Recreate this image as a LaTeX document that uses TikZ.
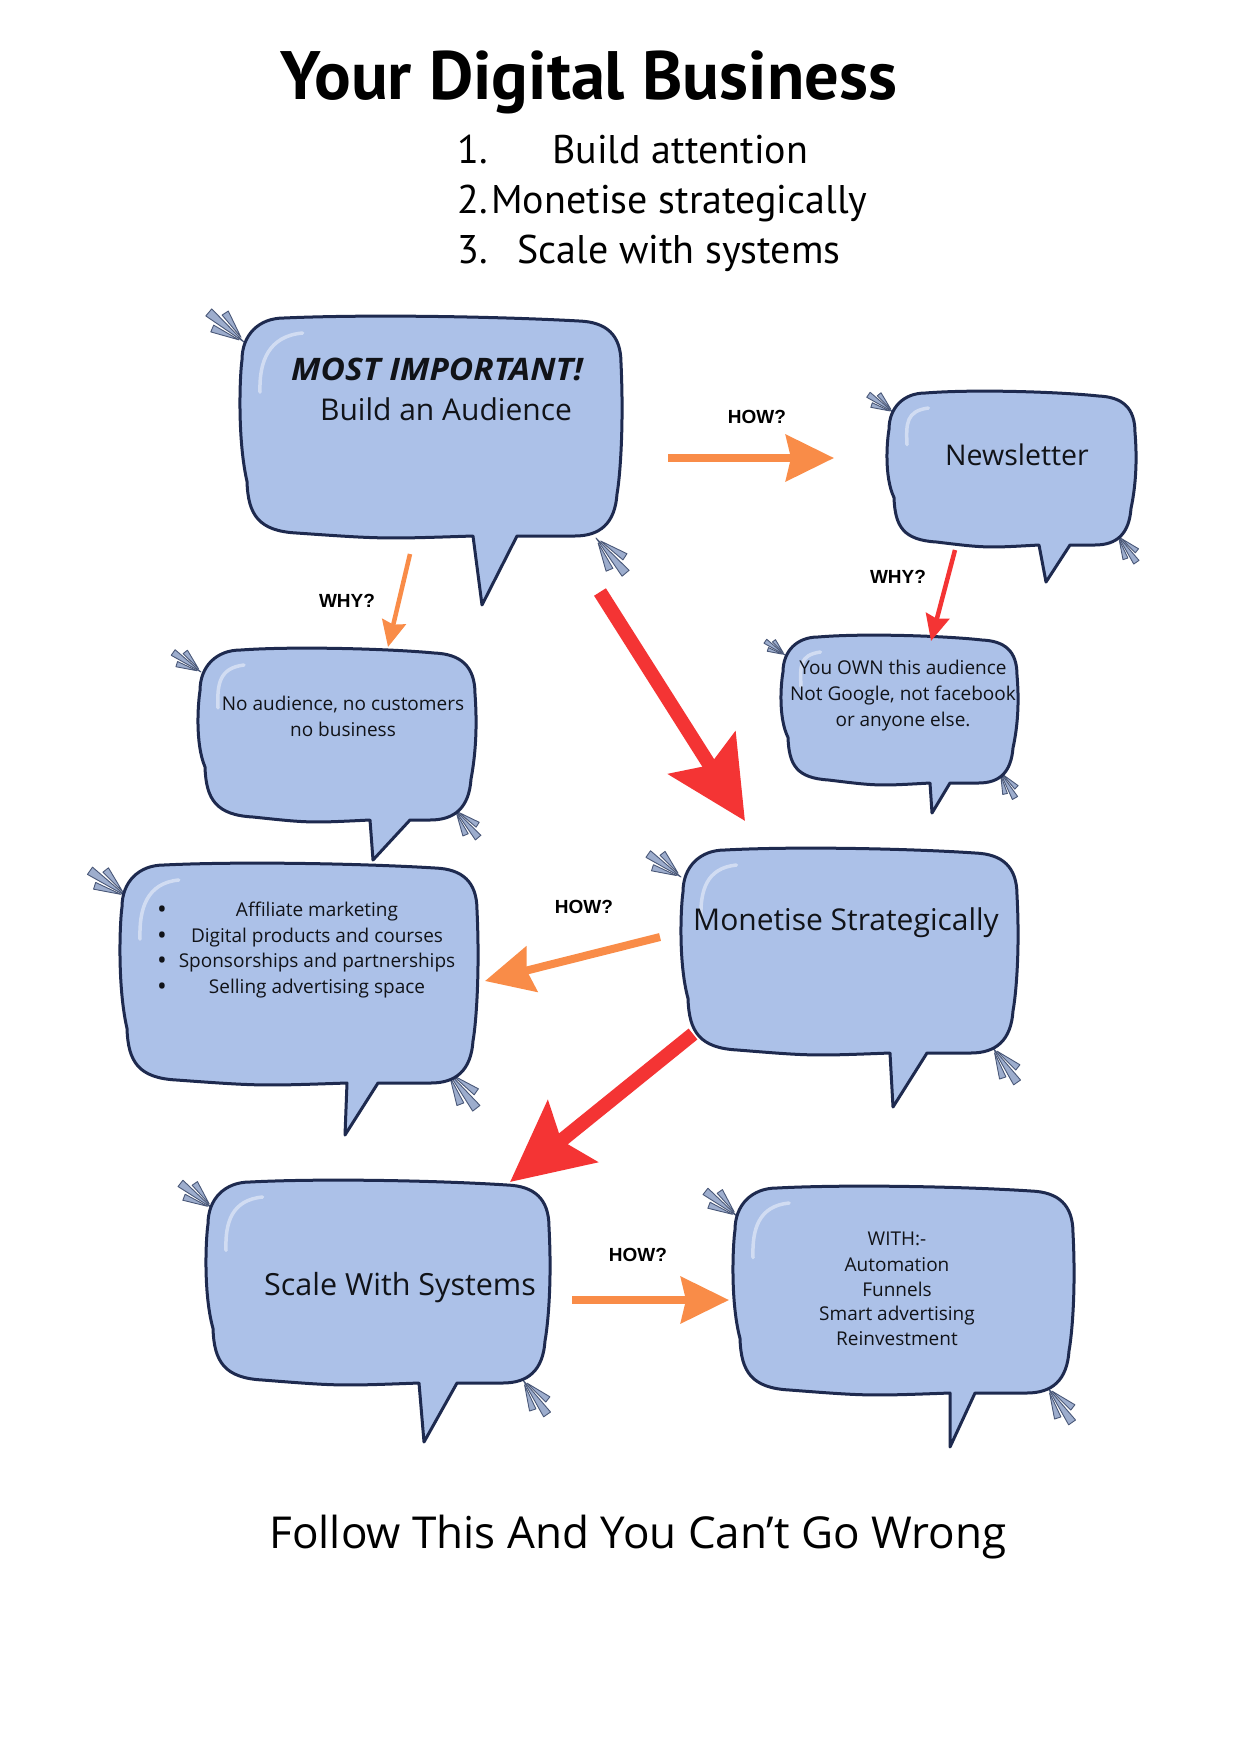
\documentclass[tikz,border=0pt]{standalone}
\usepackage{fontspec}
\setmainfont{Open Sans}
\newfontfamily\ptsans{PT Sans}
\newfontfamily\labfont{Liberation Sans}
\usetikzlibrary{arrows.meta}
\definecolor{bfill}{HTML}{ACC1E8}
\definecolor{bline}{HTML}{1E2A4F}
\definecolor{sfill}{HTML}{9DADCD}
\definecolor{sline}{HTML}{4A5878}
\definecolor{orng}{HTML}{F98C48}
\definecolor{rd}{HTML}{F43434}
\definecolor{txt}{HTML}{111318}
% one wedge: cx cy angle d0 d1 width
\newcommand{\spk}[6]{%
 \path[sparkwedge] ({#1+#4*cos(#3)},{#2+#4*sin(#3)})
  -- ({#1+#5*cos(#3)+0.5*#6*cos(#3+90)},{#2+#5*sin(#3)+0.5*#6*sin(#3+90)})
  -- ({#1+#5*cos(#3)-0.5*#6*cos(#3+90)},{#2+#5*sin(#3)-0.5*#6*sin(#3+90)}) -- cycle;}
% sparkle: cx cy angle length
\newcommand{\sprk}[4]{%
 \spk{#1}{#2}{#3-17}{0.12*#4}{0.75*#4}{0.16*#4}%
 \spk{#1}{#2}{#3}{0}{#4}{0.2*#4}%
 \spk{#1}{#2}{#3+17}{0.12*#4}{0.75*#4}{0.16*#4}}
% bubble: x1 y1 x2 y2 tailL tailR tipx tipy
\newcommand{\bub}[8]{%
 \pgfmathsetmacro\bw{#3-#1}\pgfmathsetmacro\bh{#4-#2}%
 \pgfmathsetmacro\br{min(42,0.24*\bh)}%
 \path[bubble] (#1+\br,#2)
  .. controls (#1+0.35*\bw,#2-4) and (#1+0.7*\bw,#2-1) .. (#3-\br,#2+3)
  .. controls (#3-0.35*\br,#2+4) and (#3,#2+0.4*\br) .. (#3,#2+\br+3)
  .. controls (#3+3,#2+0.5*\bh) and (#3-1,#4-1.4*\br) .. (#3-4,#4-\br)
  .. controls (#3-6,#4-0.3*\br) and (#3-0.5*\br,#4) .. (#3-1.1*\br,#4)
  -- (#6,#4) -- (#7,#8) -- (#5,#4)
  .. controls (0.5*#5+0.5*#1+0.6*\br,#4+3) .. (#1+1.3*\br,#4-3)
  .. controls (#1+0.4*\br,#4-5) and (#1+6,#4-0.5*\br) .. (#1+5,#4-1.3*\br)
  .. controls (#1-5,#2+0.55*\bh) and (#1-2,#2+1.3*\br) .. (#1,#2+\br)
  .. controls (#1,#2+0.4*\br) and (#1+0.4*\br,#2) .. (#1+\br,#2) -- cycle;
 \draw[hilite] (#1+18,#2+0.34*\bh) .. controls (#1+17,#2+0.2*\bh) and (#1+0.07*\bw,#2+18) .. (#1+0.16*\bw,#2+15);
}
\tikzset{
 bubble/.style={fill=bfill, draw=bline, line width=3pt, line join=round},
 hilite/.style={draw=white, line width=3.5pt, line cap=round, opacity=0.45},
 sparkwedge/.style={fill=sfill, draw=sline, line width=0.9pt, line join=round},
 bt/.style={inner sep=0pt, text=txt, anchor=base},
 small/.style={bt, font=\fontsize{19}{25}\selectfont},
 bulletstyle/.style={bt, font=\fontsize{26}{26}\selectfont, text height=9pt, text depth=0pt},
 lab/.style={inner sep=0pt, anchor=base, font=\labfont\bfseries\fontsize{19}{22}\selectfont},
 howarrow/.style={draw=orng, line width=8pt, -{Stealth[length=48pt,width=46pt,inset=5pt]}},
 whyarrow/.style={line width=4.5pt, -{Stealth[length=26pt,width=24pt,inset=3pt]}},
 mainarrow/.style={draw=rd, line width=14pt, -{Stealth[length=80pt,width=78pt,inset=14pt]}},
}
\begin{document}
\begin{tikzpicture}[x=1pt,y=-1pt]
\useasboundingbox[fill=white] (0,0) rectangle (1240,1748);

% title and list
\node[anchor=base, inner sep=0pt, font=\ptsans\bfseries\fontsize{68.5}{72}\selectfont] (title) at (589,99) {Your Digital Business};
\node[anchor=base west, inner sep=0pt, font=\ptsans\fontsize{40}{44}\selectfont] (n1) at (457,163) {1.};
\node[anchor=base west, inner sep=0pt, font=\ptsans\fontsize{40}{44}\selectfont] (l1) at (552,163) {Build attention};
\node[anchor=base west, inner sep=0pt, font=\ptsans\fontsize{40}{44}\selectfont] (n2) at (457,213) {2.};
\node[anchor=base west, inner sep=0pt, font=\ptsans\fontsize{40}{44}\selectfont] (l2) at (491,213) {Monetise strategically};
\node[anchor=base west, inner sep=0pt, font=\ptsans\fontsize{40}{44}\selectfont] (n3) at (457,263) {3.};
\node[anchor=base west, inner sep=0pt, font=\ptsans\fontsize{40}{44}\selectfont] (l3) at (517,263) {Scale with systems};

% sparkles
\sprk{244}{342}{220}{46}
\sprk{596}{538}{50}{46}
\sprk{893}{412}{215}{30}
\sprk{1118}{536}{55}{32}
\sprk{201}{672}{215}{34}
\sprk{455}{810}{50}{36}
\sprk{785}{655}{215}{24}
\sprk{1000}{772}{60}{30}
\sprk{126}{896}{215}{44}
\sprk{448}{1072}{52}{46}
\sprk{681}{877}{215}{40}
\sprk{993}{1048}{55}{42}
\sprk{212}{1208}{218}{40}
\sprk{523}{1380}{55}{42}
\sprk{737}{1216}{218}{40}
\sprk{1048}{1388}{55}{42}

% bubbles
\bub{242}{318}{621}{536}{473}{517}{482}{605}
\bub{889}{393}{1135}{545}{1039}{1070}{1046}{582}
\bub{200}{650}{475}{820}{370}{410}{373}{860}
\bub{783}{637}{1017}{783}{930}{950}{932}{813}
\bub{122}{865}{477}{1083}{347}{378}{345}{1135}
\bub{683}{850}{1017}{1053}{890}{927}{893}{1107}
\bub{208}{1182}{549}{1383}{419}{457}{424}{1442}
\bub{735}{1188}{1073}{1393}{950}{975}{950}{1447}

% bubble texts
\node[bt, font=\fontsize{31}{34}\selectfont\bfseries\itshape] (imp) at (437,380) {\scalebox{1.08}[1]{MOST IMPORTANT!}};
\node[bt, font=\fontsize{30}{34}\selectfont] (aud) at (446,420) {Build an Audience};
\node[bt, font=\fontsize{28.5}{34}\selectfont] (news) at (1017,465) {Newsletter};
\node[bt, font=\fontsize{30}{34}\selectfont] (mon) at (846,930) {Monetise Strategically};
\node[bt, font=\fontsize{30.5}{34}\selectfont] (scale) at (400,1295) {Scale With Systems};
\node[small] (na1) at (343,710) {No audience, no customers};
\node[small] (na2) at (343,736) {no business};
\node[small] (own1) at (903,674) {You OWN this audience};
\node[small] (own2) at (903,700) {Not Google, not facebook};
\node[small] (own3) at (903,726) {or anyone else.};
\node[small] (af1) at (317,916) {Affiliate marketing};
\node[small] (af2) at (317,942) {Digital products and courses};
\node[small] (af3) at (317,967) {Sponsorships and partnerships};
\node[small] (af4) at (317,993) {Selling advertising space};
\foreach \yy [count=\i] in {916,942,967,993}
  \node[bulletstyle] (bul\i) at (162,\yy+2) {\textbullet};
\node[small] (w1) at (897,1245) {WITH:-};
\node[small] (w2) at (897,1271) {Automation};
\node[small] (w3) at (897,1296) {Funnels};
\node[small] (w4) at (897,1320) {Smart advertising};
\node[small] (w5) at (897,1345) {Reinvestment};

% arrows
\coordinate (a1s) at (668,458); \coordinate (a1e) at (834,458);
\coordinate (a2s) at (410,554); \coordinate (a2e) at (388,647);
\coordinate (a3s) at (955,550); \coordinate (a3e) at (931,641);
\coordinate (a4s) at (600,592); \coordinate (a4e) at (745,821);
\coordinate (a5s) at (660,937); \coordinate (a5e) at (485,981);
\coordinate (a6s) at (693,1034); \coordinate (a6e) at (510,1182);
\coordinate (a7s) at (572,1300); \coordinate (a7e) at (729,1300);
\draw[howarrow] (a1s) -- (a1e);
\draw[whyarrow, draw=orng] (a2s) -- (a2e);
\draw[whyarrow, draw=rd] (a3s) -- (a3e);
\draw[mainarrow] (a4s) -- (a4e);
\draw[howarrow] (a5s) -- (a5e);
\draw[mainarrow] (a6s) -- (a6e);
\draw[howarrow] (a7s) -- (a7e);

% labels
\node[lab] (how1) at (757,423) {HOW?};
\node[lab] (why1) at (347,607) {WHY?};
\node[lab] (why2) at (898,583) {WHY?};
\node[lab] (how2) at (584,913) {HOW?};
\node[lab] (how3) at (638,1261) {HOW?};

% footer
\node[anchor=base, inner sep=0pt, font=\fontsize{44}{48}\selectfont] (foot) at (638,1548) {Follow This And You Can’t Go Wrong};
\end{tikzpicture}
\end{document}
